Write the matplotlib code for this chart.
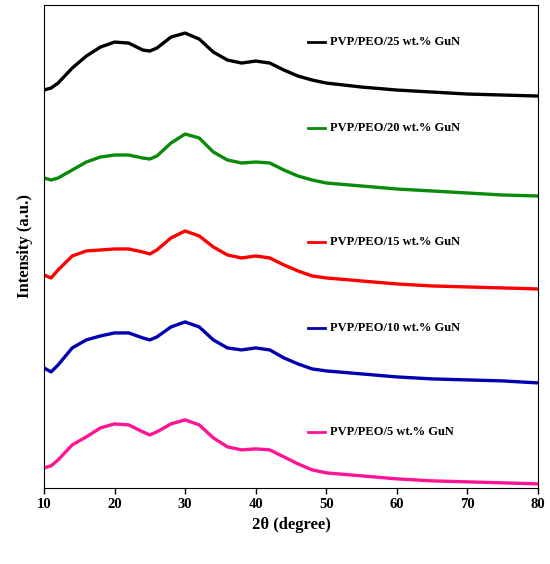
import matplotlib
matplotlib.use("Agg")
import matplotlib.pyplot as plt
import numpy as np

plt.rcParams['font.family'] = ['Liberation Serif', 'DejaVu Serif']
plt.rcParams['font.weight'] = 'bold'

# 2theta positions (degree)
two_theta = [10, 11, 12, 14, 16, 18, 20, 22, 24, 25, 26, 28, 30, 32, 34, 36, 38,
             40, 42, 44, 46, 48, 50, 55, 60, 65, 70, 75, 80]

# intensities (a.u., stacked with offsets as in the figure)
gun25 = [410, 412, 417, 432, 444, 453, 458, 457, 450, 449, 452, 463, 467, 461, 448,
         440, 437, 439, 437, 430, 424, 420, 417, 413, 410, 408, 406, 405, 404]
gun20 = [322, 320, 322, 330, 338, 343, 345, 345, 342, 341, 344, 357, 366, 362, 348,
         340, 337, 338, 337, 330, 324, 320, 317, 314, 311, 309, 307, 305, 304]
gun15 = [225, 222, 230, 244, 249, 250, 251, 251, 248, 246, 250, 262, 269, 264, 253,
         245, 242, 244, 242, 235, 229, 224, 222, 219, 216, 214, 213, 212, 211]
gun10 = [132, 128, 135, 152, 160, 164, 167, 167, 162, 160, 163, 173, 178, 173, 160,
         152, 150, 152, 150, 142, 136, 131, 129, 126, 123, 121, 120, 119, 117]
gun5 = [32, 34, 40, 55, 63, 72, 76, 75, 68, 65, 68, 76, 80, 75, 62, 53, 50, 51, 50,
        43, 36, 30, 27, 24, 21, 19, 18, 17, 16]

series = [gun25, gun20, gun15, gun10, gun5]
labels = ['PVP/PEO/25 wt.% GuN', 'PVP/PEO/20 wt.% GuN', 'PVP/PEO/15 wt.% GuN',
          'PVP/PEO/10 wt.% GuN', 'PVP/PEO/5 wt.% GuN']
colors = ['#000000', '#0a8a0a', '#ff0000', '#0000b0', '#ff1493']
label_y = [458, 372, 258, 172, 68]

fig = plt.figure(figsize=(5.5, 5.64), dpi=100)
ax = fig.add_axes([0.08, 0.135, 0.898, 0.856])

for s, lab, c, ly in zip(series, labels, colors, label_y):
    ax.plot(two_theta, s, color=c, linewidth=2.4)
    ax.plot([47.4, 49.8], [ly, ly], color=c, linewidth=2)
    ax.text(50.6, ly, lab, fontsize=9, fontweight='bold', va='center')

ax.set_xlim(10, 80)
ax.set_ylim(12, 495)
ax.set_xticks(range(10, 81, 10))
ax.set_yticks([])
ax.tick_params(axis='x', labelsize=10.5, direction='out', length=4, width=1)
for lbl in ax.get_xticklabels():
    lbl.set_fontweight('bold')
ax.set_xlabel('2θ (degree)', fontsize=12, fontweight='bold')
ax.set_ylabel('Intensity (a.u.)', fontsize=12, fontweight='bold', labelpad=8)

fig.savefig('out.png', dpi=100)
